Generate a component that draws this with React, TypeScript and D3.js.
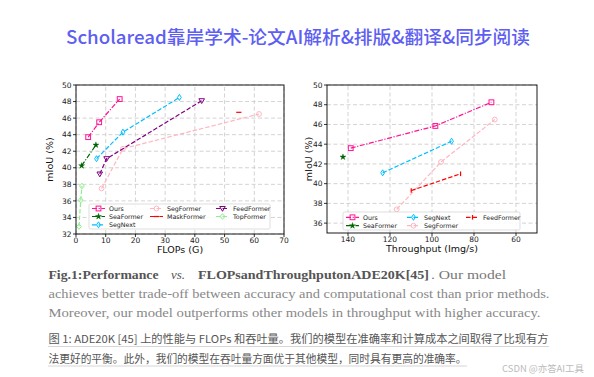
import React from "react";
import * as d3 from "d3";

// ---------- data ----------
const modelNames = ["Ours", "SeaFormer", "SegNext", "SegFormer", "MaskFormer", "FeedFormer", "TopFormer"];

const flopsOurs = [4.1, 7.8, 14.7];
const miouOursF = [43.7, 45.5, 48.3];
const flopsSea = [1.9, 6.7];
const miouSeaF = [40.25, 42.75];
const flopsSegNext = [6.9, 15.8, 34.8];
const miouSegNextF = [41.1, 44.3, 48.5];
const flopsSegFormer = [8.6, 15.8, 61.6];
const miouSegFormerF = [37.5, 42.3, 46.5];
const flopsMask = [54.8];
const miouMaskF = [46.7];
const flopsFeed = [8.0, 10.3, 42.3];
const miouFeedF = [39.25, 41.1, 48.1];
const flopsTop = [1.0, 1.6, 2.0];
const miouTopF = [32.9, 36.1, 37.8];

const tpOurs = [138.7, 98.4, 71.7];
const miouOursT = [43.6, 45.85, 48.25];
const tpSea = [142.4];
const miouSeaT = [42.7];
const tpSegNext = [123.5, 90.7];
const miouSegNextT = [41.1, 44.3];
const tpSegFormer = [116.8, 95.7, 70.1];
const miouSegFormerT = [37.4, 42.2, 46.5];
const tpFeed = [109.9, 86.4];
const miouFeedT = [39.3, 41.0];

const flopsTicks = [0, 10, 20, 30, 40, 50, 60, 70];
const miouTicksF = [32, 34, 36, 38, 40, 42, 44, 46, 48, 50];
const tpTicks = [140, 120, 100, 80, 60];
const miouTicksT = [36, 38, 40, 42, 44, 46, 48, 50];

const titleText = "Scholaread靠岸学术-论文AI解析&排版&翻译&同步阅读";
const captionBold = "Fig.1:Performance";
const captionVs = "vs.";
const captionBold2 = "FLOPsandThroughputonADE20K[45]";
const captionRest1 = ". Our model";
const captionLine2 = "achieves better trade-off between accuracy and computational cost than prior methods.";
const captionLine3 = "Moreover, our model outperforms other models in throughput with higher accuracy.";
const zhLine1 = "图 1: ADE20K [45] 上的性能与 FLOPs 和吞吐量。我们的模型在准确率和计算成本之间取得了比现有方";
const zhLine2 = "法更好的平衡。此外，我们的模型在吞吐量方面优于其他模型，同时具有更高的准确率。";
const watermark = "CSDN @亦答AI工具";

// ---------- styles ----------
type Marker = "square" | "star" | "thindiamond" | "circle" | "tri" | "hline" | "diamond" | "vline";
interface Series { name: string; xs: number[]; ys: number[]; color: string; dash: string; marker: Marker; }

const DASH = "4.5,2";
const DASHDOT = "5,1.6,1.2,1.6";

const leftSeries: Series[] = [
  { name: modelNames[0], xs: flopsOurs, ys: miouOursF, color: "#ff1493", dash: DASHDOT, marker: "square" },
  { name: modelNames[1], xs: flopsSea, ys: miouSeaF, color: "#006400", dash: DASHDOT, marker: "star" },
  { name: modelNames[2], xs: flopsSegNext, ys: miouSegNextF, color: "#00bfff", dash: DASH, marker: "thindiamond" },
  { name: modelNames[3], xs: flopsSegFormer, ys: miouSegFormerF, color: "#ffb6c1", dash: DASH, marker: "circle" },
  { name: modelNames[4], xs: flopsMask, ys: miouMaskF, color: "#ff0000", dash: DASHDOT, marker: "hline" },
  { name: modelNames[5], xs: flopsFeed, ys: miouFeedF, color: "#800080", dash: DASH, marker: "tri" },
  { name: modelNames[6], xs: flopsTop, ys: miouTopF, color: "#90ee90", dash: DASH, marker: "diamond" },
];

const rightSeries: Series[] = [
  { name: modelNames[0], xs: tpOurs, ys: miouOursT, color: "#ff1493", dash: DASHDOT, marker: "square" },
  { name: modelNames[1], xs: tpSea, ys: miouSeaT, color: "#006400", dash: DASHDOT, marker: "star" },
  { name: modelNames[2], xs: tpSegNext, ys: miouSegNextT, color: "#00bfff", dash: DASH, marker: "thindiamond" },
  { name: modelNames[3], xs: tpSegFormer, ys: miouSegFormerT, color: "#ffb6c1", dash: DASH, marker: "circle" },
  { name: modelNames[5], xs: tpFeed, ys: miouFeedT, color: "#ff0000", dash: DASH, marker: "vline" },
];

const FONT = "'DejaVu Sans', sans-serif";

function MarkerShape({ type, x, y, color }: { type: Marker; x: number; y: number; color: string }) {
  const s = 2.4;
  const common = { fill: "none", stroke: color, strokeWidth: 1 } as any;
  switch (type) {
    case "square":
      return <rect x={x - s} y={y - s} width={2 * s} height={2 * s} {...common} />;
    case "star": {
      const star = d3.symbol().type(d3.symbolStar).size(11)();
      return <path d={star as string} transform={`translate(${x},${y})`} fill={color} stroke={color} strokeWidth={0.4} />;
    }
    case "thindiamond":
      return <path d={`M${x},${y - 3}L${x + 1.9},${y}L${x},${y + 3}L${x - 1.9},${y}Z`} {...common} />;
    case "diamond":
      return <path d={`M${x},${y - 2.8}L${x + 2.4},${y}L${x},${y + 2.8}L${x - 2.4},${y}Z`} {...common} />;
    case "circle":
      return <circle cx={x} cy={y} r={2.4} {...common} />;
    case "tri":
      return <path d={`M${x - 2.8},${y - 2}L${x + 2.8},${y - 2}L${x},${y + 2.8}Z`} {...common} />;
    case "hline":
      return <line x1={x - 2.6} x2={x + 2.6} y1={y} y2={y} stroke={color} strokeWidth={1.2} />;
    case "vline":
      return <line x1={x} x2={x} y1={y - 2.3} y2={y + 2.3} stroke={color} strokeWidth={1.2} />;
  }
  return null;
}

interface PanelProps {
  series: Series[];
  xDomain: [number, number];
  yDomain: [number, number];
  xRange: [number, number];
  yRange: [number, number];
  xTicks: number[];
  yTicks: number[];
  xLabel: string;
  xLabelY: number;
  yLabelX: number;
  legendBox: [number, number, number, number];
  legendCols: number[];
  legendRows: number[];
  legendLayout: number[][];
}

function Panel(p: PanelProps) {
  const x = d3.scaleLinear().domain(p.xDomain).range(p.xRange);
  const y = d3.scaleLinear().domain(p.yDomain).range(p.yRange);
  const [x0, x1] = p.xRange;
  const [yb, yt] = p.yRange;
  const line = d3.line<[number, number]>().x((d) => x(d[0])).y((d) => y(d[1]));
  const [lx, ly, lw, lh] = p.legendBox;
  return (
    <g>
      {p.xTicks.map((t) => (
        <line key={"gx" + t} x1={x(t)} x2={x(t)} y1={yb} y2={yt} stroke="#c8c8c8" strokeWidth={0.8} strokeDasharray="4,2.5" />
      ))}
      {p.yTicks.map((t) => (
        <line key={"gy" + t} x1={x0} x2={x1} y1={y(t)} y2={y(t)} stroke="#c8c8c8" strokeWidth={0.8} strokeDasharray="4,2.5" />
      ))}
      {p.series.map((s) => {
        const pts = s.xs.map((v, i) => [v, s.ys[i]] as [number, number]);
        return (
          <g key={s.name}>
            {pts.length > 1 && (
              <path d={line(pts) as string} fill="none" stroke={s.color} strokeWidth={1.2} strokeDasharray={s.dash} />
            )}
            {pts.map((d, i) => (
              <MarkerShape key={i} type={s.marker} x={x(d[0])} y={y(d[1])} color={s.color} />
            ))}
          </g>
        );
      })}
      <rect x={Math.min(x0, x1)} y={yt} width={Math.abs(x1 - x0)} height={yb - yt} fill="none" stroke="#000" strokeWidth={0.9} />
      {p.xTicks.map((t) => (
        <g key={"tx" + t}>
          <line x1={x(t)} x2={x(t)} y1={yb} y2={yb + 3} stroke="#000" strokeWidth={0.8} />
          <text x={x(t)} y={yb + 8.5} fontSize={7.5} fontFamily={FONT} textAnchor="middle" fill="#222">{t}</text>
        </g>
      ))}
      {p.yTicks.map((t) => (
        <g key={"ty" + t}>
          <line x1={x0 - 3} x2={x0} y1={y(t)} y2={y(t)} stroke="#000" strokeWidth={0.8} />
          <text x={x0 - 4.5} y={y(t) + 2.7} fontSize={7.5} fontFamily={FONT} textAnchor="end" fill="#222">{t}</text>
        </g>
      ))}
      <text x={(x0 + x1) / 2} y={p.xLabelY} fontSize={9.5} fontFamily={FONT} textAnchor="middle" fill="#111">{p.xLabel}</text>
      <text transform={`translate(${p.yLabelX},${(yb + yt) / 2}) rotate(-90)`} fontSize={9.5} fontFamily={FONT} textAnchor="middle" fill="#111">mIoU (%)</text>
      <rect x={lx} y={ly} width={lw} height={lh} rx={1.5} fill="#fff" fillOpacity={0.85} stroke="#d0d0d0" strokeWidth={0.7} />
      {p.legendLayout.map((col, ci) =>
        col.map((si, ri) => {
          const s = p.series[si];
          const hx = p.legendCols[ci];
          const hy = p.legendRows[ri];
          return (
            <g key={ci + "-" + ri}>
              <line x1={hx} x2={hx + 13} y1={hy} y2={hy} stroke={s.color} strokeWidth={1.2} strokeDasharray={s.dash} />
              <MarkerShape type={s.marker} x={hx + 6.5} y={hy} color={s.color} />
              <text x={hx + 17} y={hy + 2.3} fontSize={6.3} fontFamily={FONT} fill="#222">{s.name}</text>
            </g>
          );
        })
      )}
    </g>
  );
}

const SERIF = "'Liberation Serif', 'DejaVu Serif', serif";

export default function App() {
  return (
    <svg width={594} height={377} style={{ position: "absolute", left: 0, top: 0, background: "#fff" }}>
      <rect width={594} height={377} fill="#fff" />
      <text x={66} y={44} fontSize={18.5} fontFamily="'Noto Sans CJK SC', 'Noto Sans', sans-serif" fontWeight={500} fill="#5e5ef2" textLength={464} lengthAdjust="spacingAndGlyphs">{titleText}</text>

      <Panel
        series={leftSeries}
        xDomain={[0, 70]}
        yDomain={[32, 50]}
        xRange={[76, 284]}
        yRange={[234, 85]}
        xTicks={flopsTicks}
        yTicks={miouTicksF}
        xLabel="FLOPs (G)"
        xLabelY={253}
        yLabelX={53}
        legendBox={[89, 204, 181, 25]}
        legendCols={[92, 150, 216]}
        legendRows={[208.5, 216.5, 224.8]}
        legendLayout={[[0, 1, 2], [3, 4], [5, 6]]}
      />
      <Panel
        series={rightSeries}
        xDomain={[150, 50]}
        yDomain={[35, 50]}
        xRange={[327, 537]}
        yRange={[233, 85]}
        xTicks={tpTicks}
        yTicks={miouTicksT}
        xLabel="Throughput (Img/s)"
        xLabelY={252}
        yLabelX={312}
        legendBox={[343, 212, 177, 18]}
        legendCols={[346, 407, 466]}
        legendRows={[217.3, 225.7]}
        legendLayout={[[0, 1], [2, 3], [4]]}
      />

      <g fontFamily={SERIF}>
        <text x={48.5} y={279} fontSize={12.5} fontWeight="bold" fill="#555" textLength={110} lengthAdjust="spacingAndGlyphs">{captionBold}</text>
        <text x={171} y={279} fontSize={12.5} fontStyle="italic" fill="#555" textLength={14} lengthAdjust="spacingAndGlyphs">{captionVs}</text>
        <text x={198} y={279} fontSize={12.5} fontWeight="bold" fill="#555" textLength={231} lengthAdjust="spacingAndGlyphs">{captionBold2}</text>
        <text x={431} y={279} fontSize={12.5} fill="#777" textLength={75} lengthAdjust="spacingAndGlyphs">{captionRest1}</text>
        <text x={48.5} y={298} fontSize={12.5} fill="#888" textLength={501} lengthAdjust="spacingAndGlyphs">{captionLine2}</text>
        <text x={48.5} y={316.5} fontSize={12.5} fill="#888" textLength={492} lengthAdjust="spacingAndGlyphs">{captionLine3}</text>
      </g>
      <g fontFamily="'Noto Sans CJK SC', sans-serif">
        <text x={48.5} y={343} fontSize={10.8} fill="#555" textLength={500} lengthAdjust="spacingAndGlyphs">{zhLine1}</text>
        <line x1={48.5} x2={549} y1={346.5} y2={346.5} stroke="#999" strokeWidth={0.8} strokeDasharray="1,1" />
        <text x={48.5} y={362.5} fontSize={10.8} fill="#555" textLength={418} lengthAdjust="spacingAndGlyphs">{zhLine2}</text>
        <line x1={48.5} x2={467} y1={366} y2={366} stroke="#999" strokeWidth={0.8} strokeDasharray="1,1" />
        <text x={584} y={372} fontSize={9.5} fill="#bbb" textAnchor="end" textLength={82} lengthAdjust="spacingAndGlyphs">{watermark}</text>
      </g>
    </svg>
  );
}
